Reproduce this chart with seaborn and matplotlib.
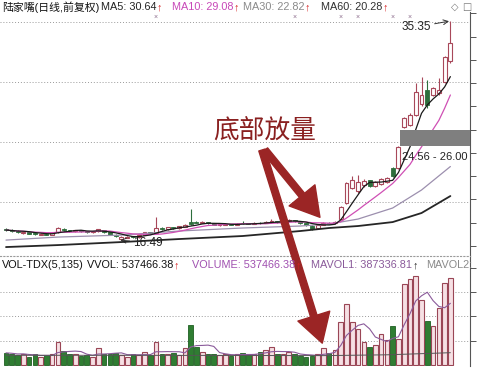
import numpy as np
import pandas as pd
import matplotlib
matplotlib.use("Agg")
import matplotlib.pyplot as plt
import seaborn as sns

# ---------------- data ----------------
opens = [17.45, 17.38, 17.30, 17.12, 17.18, 17.08, 16.96, 17.05, 16.96, 17.15,
         17.48, 17.36, 17.26, 17.32, 17.25, 17.18, 17.25, 17.38, 17.15, 16.95,
         16.62, 16.70, 16.80, 16.74, 16.94, 17.16, 17.10, 17.55, 17.45, 17.60,
         17.52, 17.64, 18.05, 18.08, 17.98, 18.04, 17.92, 17.78, 17.82, 17.86,
         17.80, 17.98, 17.94, 17.90, 18.00, 17.96, 18.04, 18.12, 18.04, 18.12,
         18.22, 18.12, 17.94, 17.72, 17.50, 17.82, 18.00, 17.92, 18.30, 19.68,
         21.00, 20.70, 21.20, 21.62, 21.15, 21.30, 21.50, 22.70, 22.70, 26.20,
         26.40, 27.26, 28.20, 29.40, 29.00, 29.15, 30.10, 31.90]
closes = [17.35, 17.28, 17.18, 17.20, 17.05, 16.98, 17.04, 16.95, 17.12, 17.50,
          17.35, 17.28, 17.33, 17.24, 17.18, 17.26, 17.42, 17.15, 16.95, 16.80,
          16.72, 16.78, 16.72, 16.92, 17.15, 17.08, 17.55, 17.45, 17.60, 17.52,
          17.66, 17.82, 17.88, 17.98, 18.06, 17.94, 17.80, 17.84, 17.88, 17.80,
          17.88, 17.92, 17.88, 18.00, 17.94, 18.06, 18.14, 18.04, 18.12, 18.24,
          18.14, 17.96, 17.76, 17.48, 17.82, 17.98, 17.90, 18.08, 19.34, 21.40,
          21.66, 21.45, 21.60, 21.15, 21.50, 21.72, 21.80, 22.00, 24.50, 27.00,
          27.26, 29.24, 29.00, 28.10, 29.58, 29.40, 32.25, 33.46]
highs = [17.50, 17.45, 17.35, 17.28, 17.22, 17.12, 17.10, 17.08, 17.18, 17.58,
         17.52, 17.40, 17.38, 17.36, 17.28, 17.30, 17.48, 17.40, 17.18, 16.98,
         16.80, 16.85, 16.84, 16.96, 17.20, 17.20, 18.45, 17.60, 17.65, 17.65,
         17.70, 17.90, 19.15, 18.15, 18.12, 18.08, 17.96, 17.90, 17.92, 17.90,
         17.92, 18.10, 17.98, 18.08, 18.04, 18.12, 18.30, 18.16, 18.16, 18.30,
         18.26, 18.16, 17.98, 17.76, 17.88, 18.04, 18.06, 18.15, 19.40, 21.50,
         22.00, 22.10, 21.75, 21.70, 21.60, 21.80, 21.90, 22.80, 24.60, 27.10,
         27.40, 30.00, 30.50, 30.30, 29.70, 30.40, 32.30, 35.35]
lows = [17.30, 17.20, 17.10, 17.05, 17.00, 16.92, 16.90, 16.90, 16.92, 17.10,
        17.30, 17.22, 17.22, 17.20, 17.12, 17.14, 17.20, 17.10, 16.90, 16.72,
        16.49, 16.65, 16.66, 16.70, 16.90, 17.02, 17.05, 17.40, 17.40, 17.48,
        17.48, 17.60, 17.80, 17.92, 17.94, 17.88, 17.75, 17.74, 17.78, 17.76,
        17.76, 17.88, 17.84, 17.86, 17.90, 17.92, 18.00, 18.00, 18.00, 18.08,
        18.08, 17.90, 17.70, 17.40, 17.46, 17.78, 17.84, 17.88, 18.25, 19.60,
        20.90, 20.50, 21.10, 21.05, 21.05, 21.25, 21.40, 21.90, 22.60, 26.10,
        26.30, 27.20, 28.00, 27.90, 28.90, 29.00, 30.00, 31.70]
# volume in units of 10,000 shares
volumes = [7.5, 7.0, 6.0, 7.0, 5.0, 6.5, 5.0, 6.0, 7.0, 14.0,
           8.5, 6.5, 7.0, 5.5, 6.0, 5.0, 10.5, 7.0, 6.5, 7.5,
           6.0, 5.0, 7.0, 6.0, 8.0, 6.0, 14.0, 7.0, 6.5, 7.5,
           6.0, 10.5, 25.0, 11.0, 8.0, 7.0, 6.5, 6.0, 7.0, 5.5,
           6.5, 7.5, 6.0, 7.0, 8.0, 9.0, 11.0, 7.0, 6.5, 8.0,
           7.0, 5.5, 5.0, 5.5, 6.5, 10.5, 7.4, 9.3, 26.6, 37.7,
           26.6, 22.2, 14.2, 11.1, 12.4, 19.2, 15.5, 24.1, 16.0, 50.0,
           53.0, 55.0, 40.0, 27.0, 24.0, 35.0, 51.0, 53.7]

# long moving averages (history before the window is not visible)
ma30_idx = [0, 9, 20, 30, 41, 51, 56, 61, 67, 72, 77]
ma30_val = [16.49, 16.75, 16.92, 17.27, 17.53, 17.70, 17.87, 18.30, 19.25, 20.80, 22.82]
ma60_idx = [0, 9, 20, 30, 41, 51, 56, 61, 67, 72, 77]
ma60_val = [15.89, 16.06, 16.32, 16.58, 16.84, 17.27, 17.53, 17.70, 18.04, 18.82, 20.28]
mavol2_idx = [0, 20, 40, 55, 66, 77]
mavol2_val = [6.0, 6.0, 5.9, 5.8, 6.3, 7.6]

info_marks = [26, 50, 58, 61, 67, 70]

title_name = "陆家嘴(日线,前复权)"
ma_labels = ["MA5: 30.64", "MA10: 29.08", "MA30: 22.82", "MA60: 20.28"]
vol_labels = ["VOL-TDX(5,135)", "VVOL: 537466.38", "VOLUME: 537466.38",
              "MAVOL1: 387336.81", "MAVOL2:"]
high_label = "35.35"
low_label = "16.49"
range_low, range_high = 24.56, 26.00
range_label = "24.56 - 26.00"
callout = "底部放量"

# ---------------- style ----------------
sns.set_theme(style="white")
plt.rcParams['font.family'] = ['Liberation Sans', 'Noto Sans CJK SC', 'DejaVu Sans']
plt.rcParams['axes.unicode_minus'] = False

W, H = 478, 368
def fx(px): return px / W
def fy(py): return 1 - py / H

UP_EDGE = "#a8485a"
UP_FILL_VOL = "#f6e0e4"
DN = "#2d6e3c"
GRID = "#9a9a9a"

fig = plt.figure(figsize=(W / 100, H / 100), dpi=100)
fig.patch.set_facecolor("white")
ax = fig.add_axes([0, fy(256), 470 / W, (256 - 12) / H])
axv = fig.add_axes([0, fy(366), 470 / W, (366 - 256) / H])

N = len(closes)
x = np.arange(N)
o = np.array(opens); c = np.array(closes); h = np.array(highs); l = np.array(lows)
v = np.array(volumes)
up = c >= o

df = pd.DataFrame({"i": x, "close": c, "vol": v})
df["ma5"] = df["close"].rolling(5, min_periods=1).mean()
df["ma10"] = df["close"].rolling(10, min_periods=1).mean()
df["mavol1"] = df["vol"].rolling(5, min_periods=1).mean()

# ---------------- price panel ----------------
for lvl in [19.8, 24.95, 30.1, 35.3]:
    ax.axhline(lvl, color=GRID, lw=0.7, ls=(0, (1, 2)), zorder=1)

ax.vlines(x, l, h, colors=np.where(up, UP_EDGE, DN), lw=0.8, zorder=2)
bb = np.minimum(o, c)
bh = np.maximum(np.abs(c - o), 0.05)
ax.bar(x[up], bh[up], bottom=bb[up], width=0.68, facecolor="white",
       edgecolor=UP_EDGE, lw=0.8, zorder=3)
ax.bar(x[~up], bh[~up], bottom=bb[~up], width=0.68, facecolor=DN,
       edgecolor=DN, lw=0.6, zorder=3)

sns.lineplot(x=ma60_idx, y=ma60_val, ax=ax, color="#262626", lw=1.3, zorder=4)
sns.lineplot(x=ma30_idx, y=ma30_val, ax=ax, color="#9c8fae", lw=0.9, zorder=4)
sns.lineplot(data=df, x="i", y="ma10", ax=ax, color="#cf4fb4", lw=0.9, zorder=4)
sns.lineplot(data=df, x="i", y="ma5", ax=ax, color="#1a1a1a", lw=0.9, zorder=4)

# highlighted price range box
ax.axhspan(range_low, range_high, xmin=400 / 470, xmax=1, color="#7f7f7f", zorder=5, lw=0)
ax.text(74.3, 23.64, range_label, ha="center", va="center", fontsize=8,
        color="#222222", zorder=6)

for m in info_marks:
    ax.text(m, 35.69, "×", ha="center", va="center", fontsize=5, color="#8a6a8a")

ax.annotate(high_label, xy=(N - 1, h[-1]), xytext=(N - 1 - 3.3, 34.83),
            ha="right", va="center", fontsize=8.5, color="#222222",
            arrowprops=dict(arrowstyle="->", lw=0.7, color="#333333",
                            shrinkA=0, shrinkB=1))
low_i = int(np.argmin(l))
ax.annotate(low_label, xy=(low_i - 0.2, l[low_i]), xytext=(low_i + 2.0, 16.24),
            ha="left", va="center", fontsize=8.5, color="#222222",
            arrowprops=dict(arrowstyle="->", lw=0.7, color="#333333",
                            shrinkA=0, shrinkB=0))

ax.set_xlim(-1.04, 80.4)
ax.set_ylim(15.12, 36.12)
ax.set_xlabel(""); ax.set_ylabel("")
ax.set_xticks([])
ax.yaxis.tick_right()
ax.set_yticks(np.arange(16, 36.1, 2))
ax.tick_params(axis="y", right=True, length=4, width=0.7, color="#555555",
               labelright=False, direction="out")
for s in ["left", "top", "bottom"]:
    ax.spines[s].set_visible(False)
ax.spines["right"].set_color("#555555"); ax.spines["right"].set_linewidth(0.8)
ax.set_facecolor("white")
if ax.get_legend():
    ax.get_legend().remove()

# ---------------- volume panel ----------------
for lvl in [15, 30, 45]:
    axv.axhline(lvl, color=GRID, lw=0.7, ls=(0, (1, 2)), zorder=1)
axv.bar(x[up], v[up], width=0.8, facecolor=UP_FILL_VOL, edgecolor="#9a4656",
        lw=0.8, zorder=2)
axv.bar(x[~up], v[~up], width=0.8, facecolor="#2f7d32", edgecolor="#1f5f22",
        lw=0.6, zorder=2)
sns.lineplot(data=df, x="i", y="mavol1", ax=axv, color="#8a5a9a", lw=0.8, zorder=3)
sns.lineplot(x=mavol2_idx, y=mavol2_val, ax=axv, color="#555555", lw=0.7, zorder=3)

axv.set_xlim(-1.04, 80.4)
axv.set_ylim(-0.62, 67.4)
axv.set_xlabel(""); axv.set_ylabel("")
axv.set_xticks([])
axv.yaxis.tick_right()
axv.set_yticks([15, 30, 45, 60])
axv.tick_params(axis="y", right=True, length=4, width=0.7, color="#555555",
                labelright=False, direction="out")
for s in ["left", "bottom"]:
    axv.spines[s].set_visible(False)
axv.spines["top"].set_linestyle((0, (1, 2)))
axv.spines["top"].set_color(GRID); axv.spines["top"].set_linewidth(0.8)
axv.spines["right"].set_color("#555555"); axv.spines["right"].set_linewidth(0.8)
axv.set_facecolor("white")

# ---------------- callout arrows ----------------
ARW = "#9b2525"
ARROW_STYLE = "simple,head_length=1.7,head_width=2.0,tail_width=0.4"
ax.annotate("", xy=(54.4, 18.45), xycoords="data",
            xytext=(265, H - 150), textcoords="figure pixels",
            arrowprops=dict(arrowstyle=ARROW_STYLE, color=ARW, shrinkA=0,
                            shrinkB=0, mutation_scale=12),
            annotation_clip=False, zorder=8)
axv.annotate("", xy=(54.8, 13.5), xycoords="data",
             xytext=(262, H - 150), textcoords="figure pixels",
             arrowprops=dict(arrowstyle=ARROW_STYLE, color=ARW, shrinkA=0,
                             shrinkB=0, mutation_scale=12),
             annotation_clip=False, zorder=8)
fig.text(fx(265), fy(132), callout, ha="center", va="center", fontsize=18.5,
         color="#8a2020", family=["Noto Sans CJK SC", "DejaVu Sans"])

# ---------------- header texts ----------------
RED = "#d42020"
renderer = fig.canvas.get_renderer()

def header_row(y_px, segments, size=7.8):
    """segments: list of (text, colour, start_px or None for 'follow previous', gap_px)"""
    cur = 0
    for text, col, start, gap in segments:
        xpos = start if start is not None else cur + gap
        t = fig.text(fx(xpos), fy(y_px), text, fontsize=size, color=col, va="center")
        bb_ = t.get_window_extent(renderer=renderer)
        cur = bb_.x1

header_row(7, [
    (title_name, "#111111", 2, 0),
    (ma_labels[0], "#222222", 101, 0),
    ("↑", RED, None, 0.5),
    (ma_labels[1], "#c848b8", 172, 0),
    ("↑", RED, None, 0.5),
    (ma_labels[2], "#8a8a8a", 243, 0),
    ("↑", RED, None, 0.5),
    (ma_labels[3], "#303030", 321, 0),
    ("↑", RED, None, 0.5),
])
fig.text(fx(451), fy(7), "◇", fontsize=7, color="#777777", va="center",
         family=["DejaVu Sans"])
fig.text(fx(462), fy(7), "□", fontsize=7, color="#777777", va="center",
         family=["DejaVu Sans"])

header_row(265, [
    (vol_labels[0], "#111111", 2, 0),
    (vol_labels[1], "#111111", 87, 0),
    ("↑", RED, None, 0.5),
    (vol_labels[2], "#a050b0", 192, 0),
    ("↑", RED, None, 0.5),
    (vol_labels[3], "#8a5a9a", 311, 0),
    ("↑", "#222222", None, 0.5),
    (vol_labels[4], "#8a8a8a", 426, 0),
])

fig.savefig("out.png", dpi=100, facecolor="white")
